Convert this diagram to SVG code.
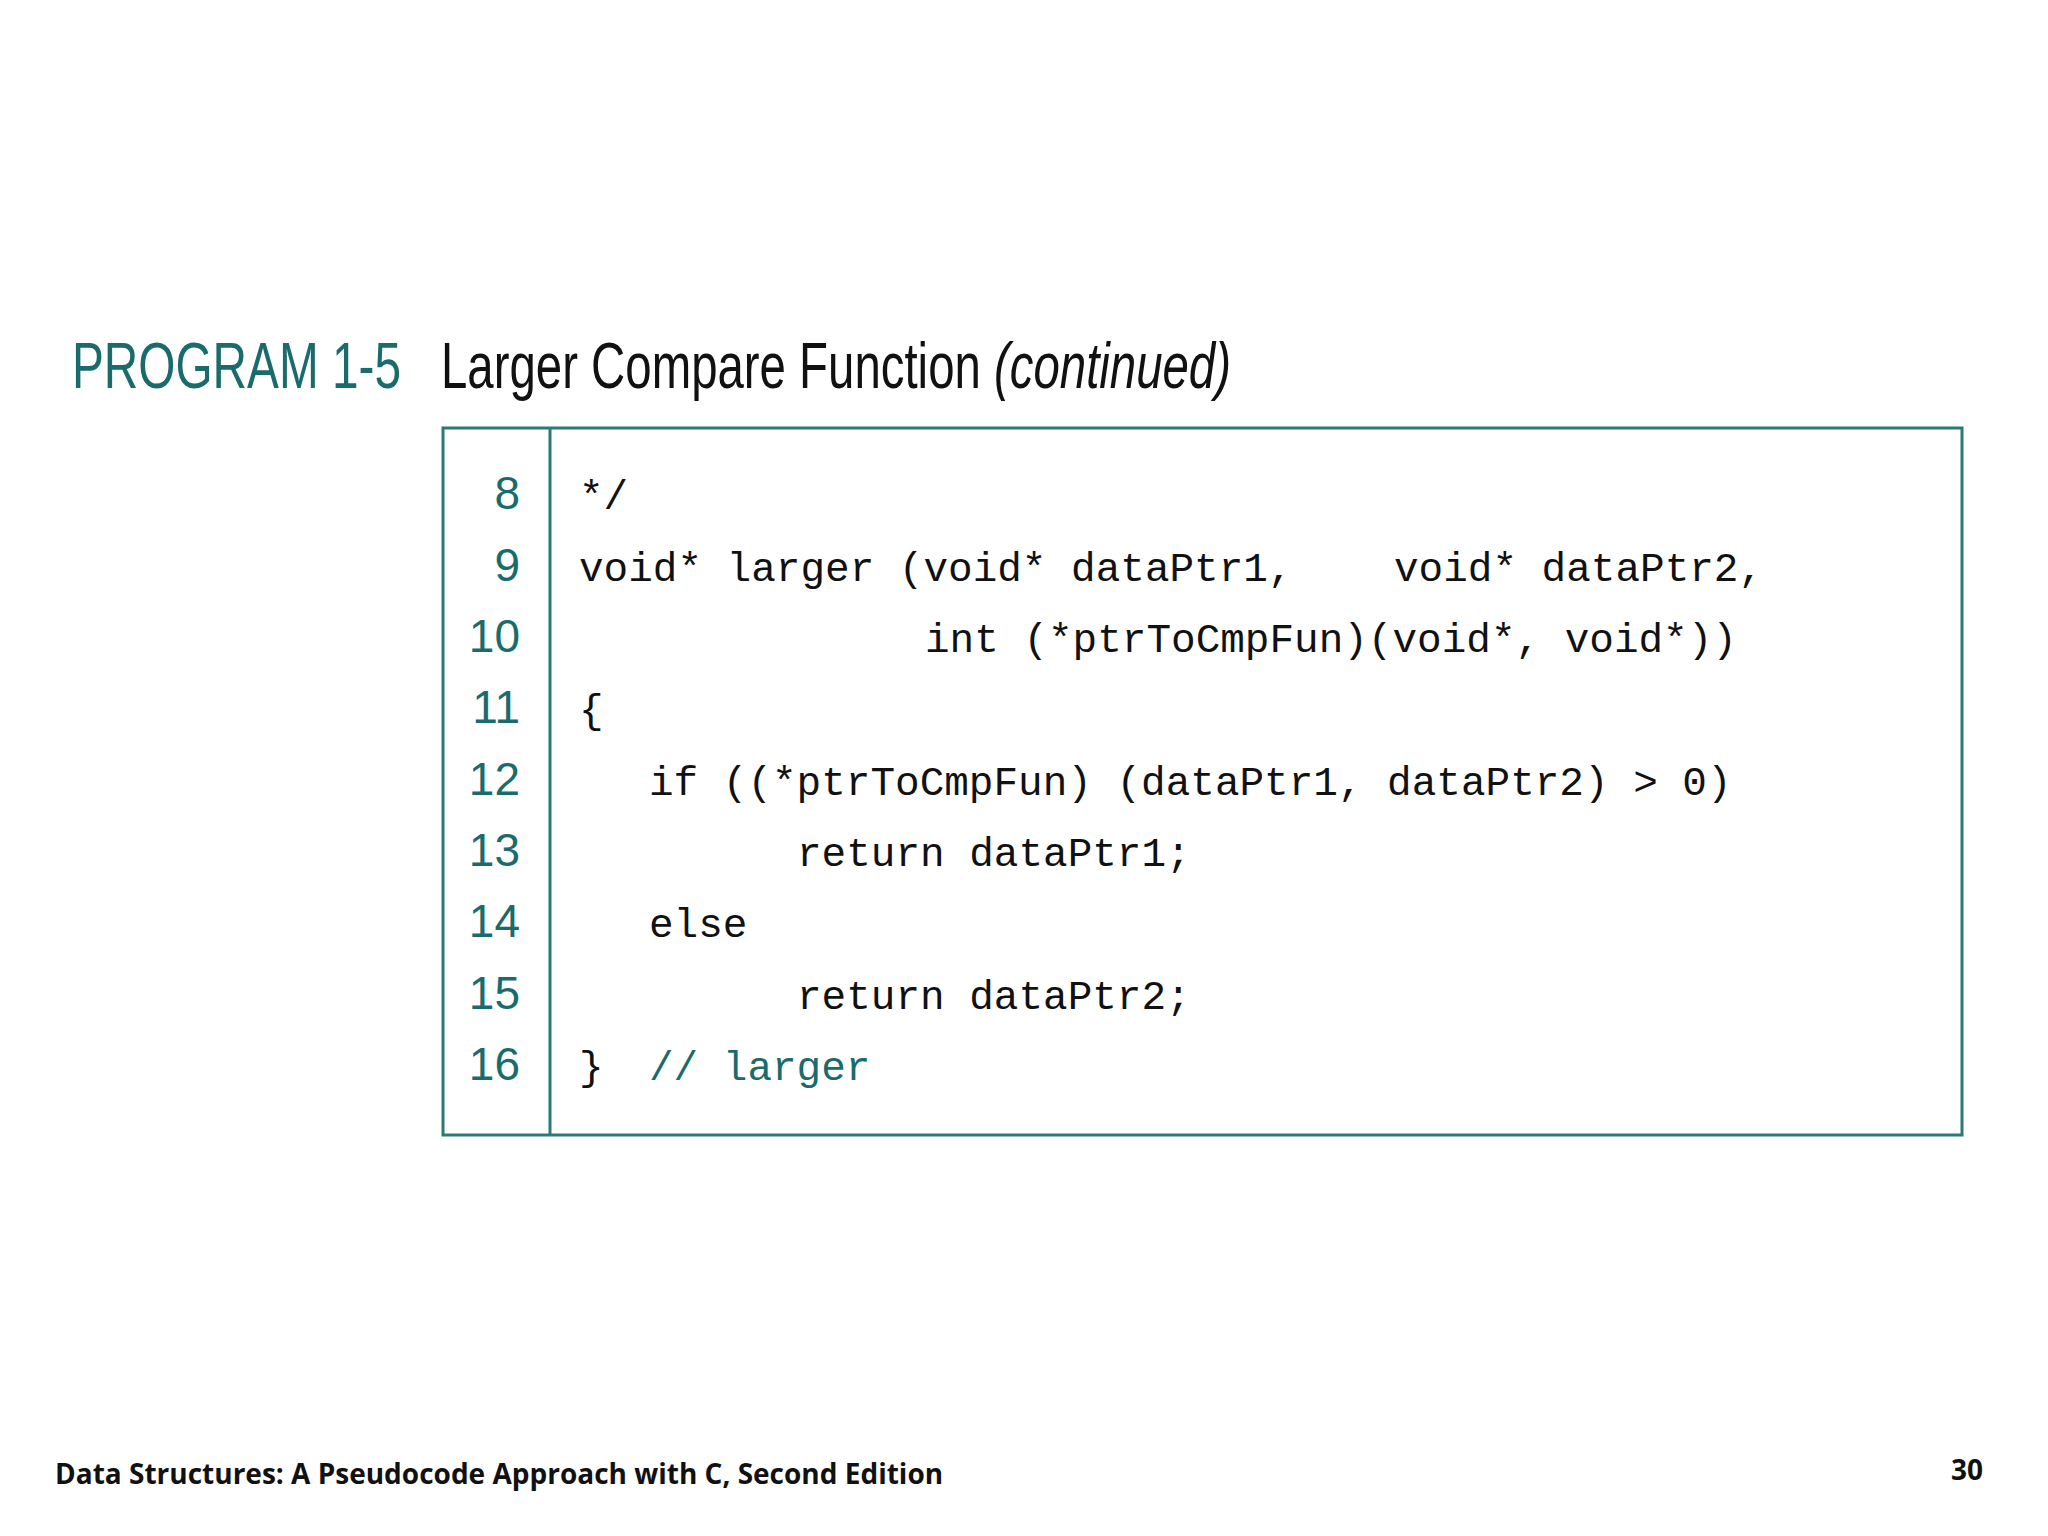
<svg xmlns="http://www.w3.org/2000/svg" width="2048" height="1536" viewBox="0 0 2048 1536">
<style>
.c{font-family:"Liberation Mono",monospace;font-size:41px;fill:#111;white-space:pre}
.n{font-family:"Liberation Sans",sans-serif;font-size:46px;fill:#1a6b6b;text-anchor:end}
.t{font-family:"Liberation Sans",sans-serif;font-size:64px}
.f{font-family:"Open Sans","Liberation Sans",sans-serif;font-size:28px;font-weight:bold;fill:#111}
</style>
<rect width="2048" height="1536" fill="#fff"/>
<g id="title">
<text class="t" x="72" y="388" fill="#1a6b6b" textLength="329" lengthAdjust="spacingAndGlyphs">PROGRAM 1-5</text>
<text class="t" x="441" y="388" fill="#111" textLength="790" lengthAdjust="spacingAndGlyphs">Larger Compare Function <tspan font-style="italic">(continued)</tspan></text>
</g>
<g id="box">
<rect x="443" y="428" width="1519" height="707" fill="none" stroke="#2a7a7a" stroke-width="3"/>
<line x1="550" y1="428" x2="550" y2="1135" stroke="#2a7a7a" stroke-width="3"/>
</g>
<g id="numbers">
<text class="n" x="520" y="509">8</text>
<text class="n" x="520" y="581">9</text>
<text class="n" x="520" y="652">10</text>
<text class="n" x="520" y="723">11</text>
<text class="n" x="520" y="795">12</text>
<text class="n" x="520" y="866">13</text>
<text class="n" x="520" y="937">14</text>
<text class="n" x="520" y="1009">15</text>
<text class="n" x="520" y="1080">16</text>
</g>
<g id="code">
<text class="c" x="579" y="509" fill="#1a6b6b">*/</text>
<text class="c" x="579" y="581">void* larger (void* dataPtr1,</text>
<text class="c" x="1394" y="581">void* dataPtr2,</text>
<text class="c" x="925" y="652">int (*ptrToCmpFun)(void*, void*))</text>
<text class="c" x="579" y="723">{</text>
<text class="c" x="649" y="795">if ((*ptrToCmpFun) (dataPtr1, dataPtr2) &gt; 0)</text>
<text class="c" x="797" y="866">return dataPtr1;</text>
<text class="c" x="649" y="937">else</text>
<text class="c" x="797" y="1009">return dataPtr2;</text>
<text class="c" x="579" y="1080">}</text>
<text class="c" x="649" y="1080" style="fill:#1a6b6b">// larger</text>
</g>
<g id="footer">
<text class="f" x="55" y="1484">Data Structures: A Pseudocode Approach with C, Second Edition</text>
<text class="f" x="1983" y="1480" text-anchor="end">30</text>
</g>
</svg>
